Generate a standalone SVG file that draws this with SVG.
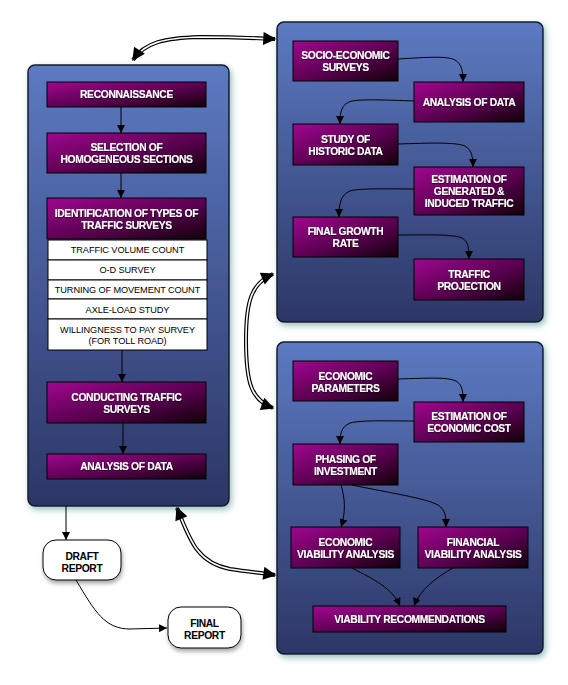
<svg xmlns="http://www.w3.org/2000/svg" width="568" height="685" viewBox="0 0 568 685">
<defs>
<linearGradient id="panelG" x1="0" y1="0" x2="0" y2="1">
<stop offset="0" stop-color="#5c7ac2"/>
<stop offset="1" stop-color="#2c3666"/>
</linearGradient>
<linearGradient id="nodeG" x1="0" y1="0" x2="1" y2="1">
<stop offset="0" stop-color="#a0078f"/>
<stop offset="0.55" stop-color="#5a0050"/>
<stop offset="1" stop-color="#100008"/>
</linearGradient>
<filter id="pshadow" x="-10%" y="-10%" width="125%" height="125%">
<feDropShadow dx="2" dy="3" stdDeviation="3" flood-color="#4a8a8a" flood-opacity="0.55"/>
</filter>
<filter id="rshadow" x="-20%" y="-20%" width="150%" height="160%">
<feDropShadow dx="1" dy="3" stdDeviation="2" flood-color="#000" flood-opacity="0.35"/>
</filter>
<filter id="tshadow" x="-5%" y="-20%" width="110%" height="150%">
<feDropShadow dx="0.4" dy="0.6" stdDeviation="0.4" flood-color="#000" flood-opacity="0.9"/>
</filter>
<marker id="ah" viewBox="0 0 10 10" refX="10" refY="5" markerWidth="8" markerHeight="8" markerUnits="userSpaceOnUse" orient="auto">
<path d="M0,0 L10,5 L0,10 z" fill="#000"/>
</marker>
<marker id="bh" viewBox="0 0 10 10" refX="9" refY="5" markerWidth="14" markerHeight="13" markerUnits="userSpaceOnUse" orient="auto-start-reverse">
<path d="M0,0 L10,5 L0,10 z" fill="#000"/>
</marker>
</defs>
<style>
.panel{fill:url(#panelG);stroke:#15182a;stroke-width:1.5;filter:url(#pshadow)}
.node{fill:url(#nodeG);stroke:#000;stroke-width:1}
.row{fill:#fff;stroke:#000;stroke-width:1}
.rep{fill:#fff;stroke:#000;stroke-width:1;filter:url(#rshadow)}
.t{font-family:"Liberation Sans",Arial,sans-serif;font-weight:bold;font-size:10.3px;fill:#fff;text-anchor:middle;letter-spacing:-0.35px;filter:url(#tshadow)}
.r{font-family:"Liberation Sans",Arial,sans-serif;font-size:9.2px;fill:#000;text-anchor:middle;letter-spacing:-0.1px}
.k{font-family:"Liberation Sans",Arial,sans-serif;font-weight:bold;font-size:10.3px;fill:#000;text-anchor:middle;letter-spacing:-0.35px}
.c{fill:none;stroke:#000;stroke-width:1;marker-end:url(#ah)}
.dbo{fill:none;stroke:#000;stroke-width:4}
.dbi{fill:none;stroke:#fff;stroke-width:1.6;marker-start:url(#bh);marker-end:url(#bh)}
</style>

<g id="panel-left">
<rect class="panel" x="28" y="65" width="201" height="441" rx="7"/>
</g>
<g id="panel-growth">
<rect class="panel" x="277" y="22" width="266" height="300" rx="7"/>
</g>
<g id="panel-economic">
<rect class="panel" x="277" y="342" width="266" height="312" rx="7"/>
</g>

<g id="connectors">
<line class="c" x1="121" y1="107" x2="121" y2="133"/>
<line class="c" x1="121" y1="173" x2="121" y2="198"/>
<line class="c" x1="122" y1="350" x2="122" y2="382"/>
<line class="c" x1="123" y1="423" x2="123" y2="454"/>
<line class="c" x1="66" y1="506" x2="66" y2="540"/>
<path class="c" d="M76,580 C95,612 105,629 130,629 L167,628"/>
<path class="c" d="M398,59 C430,57 447,56 455,60 C462,64 463,72 463,82"/>
<path class="c" d="M414,101 C385,100 365,99 352,101 C341,104 340,112 340,124"/>
<path class="c" d="M398,144 C430,143 455,142 465,146 C472,150 473,158 473,167"/>
<path class="c" d="M414,189 C385,189 360,188 350,191 C340,195 339,205 339,217"/>
<path class="c" d="M398,235 C430,235 452,234 462,238 C469,242 469,250 469,259"/>
<path class="c" d="M398,379 C430,378 447,377 456,381 C463,385 463,393 463,402"/>
<path class="c" d="M414,421 C385,421 362,420 350,423 C341,427 340,434 340,444"/>
<path class="c" d="M341,485 C345,498 346,512 341,527"/>
<path class="c" d="M352,485 C390,493 425,498 438,505 C446,510 446,518 446,527"/>
<path class="c" d="M352,568 C375,580 392,588 400,606"/>
<path class="c" d="M453,568 C435,578 420,590 414,606"/>
<path class="dbo" d="M133,60 C145,42 165,38 200,37 C230,37 255,38 275,39"/>
<path class="dbi" d="M133,60 C145,42 165,38 200,37 C230,37 255,38 275,39"/>
<path class="dbo" d="M273,274 C252,283 246,300 246,340 C246,385 252,400 273,408"/>
<path class="dbi" d="M273,274 C252,283 246,300 246,340 C246,385 252,400 273,408"/>
<path class="dbo" d="M177,508 C190,540 197,563 230,569 C250,572 262,573 275,575"/>
<path class="dbi" d="M177,508 C190,540 197,563 230,569 C250,572 262,573 275,575"/>
</g>

<g id="n-reconnaissance">
<rect class="node" x="47" y="82" width="159" height="25"/>
<text class="t" x="126.5" y="98">RECONNAISSANCE</text>
</g>
<g id="n-selection">
<rect class="node" x="47" y="133" width="159" height="40"/>
<text class="t" x="126.5" y="151">SELECTION OF</text>
<text class="t" x="126.5" y="163">HOMOGENEOUS SECTIONS</text>
</g>
<g id="n-identification">
<rect class="node" x="47" y="198" width="159" height="41"/>
<text class="t" x="126.5" y="216.5">IDENTIFICATION OF TYPES OF</text>
<text class="t" x="126.5" y="228.5">TRAFFIC SURVEYS</text>
</g>
<g id="n-survey-list">
<rect class="row" x="48" y="240" width="159" height="20"/>
<text class="r" x="127.5" y="253">TRAFFIC VOLUME COUNT</text>
<rect class="row" x="48" y="260" width="159" height="20"/>
<text class="r" x="127.5" y="273">O-D SURVEY</text>
<rect class="row" x="48" y="280" width="159" height="19"/>
<text class="r" x="127.5" y="293">TURNING OF MOVEMENT COUNT</text>
<rect class="row" x="48" y="299" width="159" height="20"/>
<text class="r" x="127.5" y="312.5">AXLE-LOAD STUDY</text>
<rect class="row" x="48" y="319" width="159" height="31"/>
<text class="r" x="127.5" y="333">WILLINGNESS TO PAY SURVEY</text>
<text class="r" x="127.5" y="344">(FOR TOLL ROAD)</text>
</g>
<g id="n-conducting">
<rect class="node" x="47" y="382" width="159" height="41"/>
<text class="t" x="126.5" y="400.5">CONDUCTING TRAFFIC</text>
<text class="t" x="126.5" y="412.5">SURVEYS</text>
</g>
<g id="n-analysis-left">
<rect class="node" x="47" y="454" width="159" height="25"/>
<text class="t" x="126.5" y="470">ANALYSIS OF DATA</text>
</g>

<g id="n-socio">
<rect class="node" x="293" y="41" width="105" height="40"/>
<text class="t" x="345.5" y="58.5">SOCIO-ECONOMIC</text>
<text class="t" x="345.5" y="70.5">SURVEYS</text>
</g>
<g id="n-analysis-right">
<rect class="node" x="414" y="82" width="110" height="40"/>
<text class="t" x="469" y="105.5">ANALYSIS OF DATA</text>
</g>
<g id="n-historic">
<rect class="node" x="293" y="124" width="105" height="41"/>
<text class="t" x="345.5" y="142.5">STUDY OF</text>
<text class="t" x="345.5" y="154.5">HISTORIC DATA</text>
</g>
<g id="n-generated">
<rect class="node" x="414" y="167" width="110" height="48"/>
<text class="t" x="469" y="182.5">ESTIMATION OF</text>
<text class="t" x="469" y="194.5">GENERATED &amp;</text>
<text class="t" x="469" y="206.5">INDUCED TRAFFIC</text>
</g>
<g id="n-growth">
<rect class="node" x="293" y="217" width="105" height="40"/>
<text class="t" x="345.5" y="234.5">FINAL GROWTH</text>
<text class="t" x="345.5" y="246.5">RATE</text>
</g>
<g id="n-projection">
<rect class="node" x="414" y="259" width="110" height="41"/>
<text class="t" x="469" y="277.5">TRAFFIC</text>
<text class="t" x="469" y="289.5">PROJECTION</text>
</g>

<g id="n-econ-params">
<rect class="node" x="293" y="361" width="105" height="40"/>
<text class="t" x="345.5" y="379.5">ECONOMIC</text>
<text class="t" x="345.5" y="391.5">PARAMETERS</text>
</g>
<g id="n-econ-cost">
<rect class="node" x="414" y="402" width="110" height="40"/>
<text class="t" x="469" y="419.5">ESTIMATION OF</text>
<text class="t" x="469" y="431.5">ECONOMIC COST</text>
</g>
<g id="n-phasing">
<rect class="node" x="293" y="444" width="105" height="41"/>
<text class="t" x="345.5" y="462.5">PHASING OF</text>
<text class="t" x="345.5" y="474.5">INVESTMENT</text>
</g>
<g id="n-econ-viab">
<rect class="node" x="291" y="527" width="109" height="41"/>
<text class="t" x="345.5" y="545.5">ECONOMIC</text>
<text class="t" x="345.5" y="557.5">VIABILITY ANALYSIS</text>
</g>
<g id="n-fin-viab">
<rect class="node" x="418" y="527" width="110" height="41"/>
<text class="t" x="473" y="545.5">FINANCIAL</text>
<text class="t" x="473" y="557.5">VIABILITY ANALYSIS</text>
</g>
<g id="n-recommendations">
<rect class="node" x="313" y="606" width="193" height="26"/>
<text class="t" x="409.5" y="622.5">VIABILITY RECOMMENDATIONS</text>
</g>

<g id="n-draft">
<rect class="rep" x="43" y="540" width="78" height="40" rx="13"/>
<text class="k" x="82" y="559.5">DRAFT</text>
<text class="k" x="82" y="571.5">REPORT</text>
</g>
<g id="n-final">
<rect class="rep" x="168" y="607" width="73" height="41" rx="13"/>
<text class="k" x="204.5" y="626.5">FINAL</text>
<text class="k" x="204.5" y="638.5">REPORT</text>
</g>
</svg>
